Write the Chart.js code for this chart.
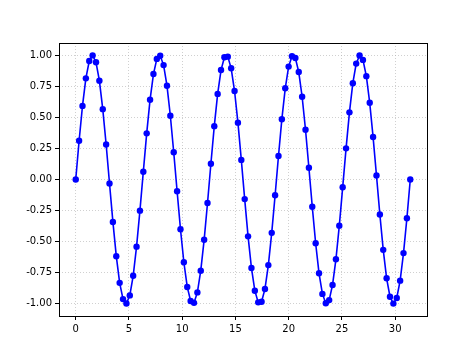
<!DOCTYPE html>
<html>
<head>
<meta charset="utf-8">
<script src="https://cdn.jsdelivr.net/npm/chart.js@4.4.0/dist/chart.umd.min.js"></script>
<style>
  html, body { margin: 0; padding: 0; background: #fff; }
  #wrap { width: 474px; height: 355px; }
</style>
</head>
<body>
<div id="wrap"><canvas id="chart" width="474" height="355"></canvas></div>
<script>
const xs = [0, 0.317, 0.635, 0.952, 1.269, 1.587, 1.904, 2.221, 2.539, 2.856,
    3.173, 3.491, 3.808, 4.125, 4.443, 4.760, 5.077, 5.395, 5.712, 6.029,
    6.347, 6.664, 6.981, 7.299, 7.616, 7.933, 8.251, 8.568, 8.885, 9.203,
    9.520, 9.837, 10.155, 10.472, 10.789, 11.107, 11.424, 11.741, 12.059, 12.376,
    12.693, 13.011, 13.328, 13.645, 13.963, 14.280, 14.597, 14.915, 15.232, 15.549,
    15.867, 16.184, 16.501, 16.819, 17.136, 17.453, 17.771, 18.088, 18.405, 18.723,
    19.040, 19.357, 19.675, 19.992, 20.309, 20.627, 20.944, 21.261, 21.579, 21.896,
    22.213, 22.531, 22.848, 23.165, 23.483, 23.800, 24.117, 24.435, 24.752, 25.069,
    25.387, 25.704, 26.021, 26.339, 26.656, 26.973, 27.291, 27.608, 27.925, 28.243,
    28.560, 28.877, 29.195, 29.512, 29.829, 30.147, 30.464, 30.781, 31.099, 31.416];

const ys = [0, 0.312, 0.593, 0.815, 0.955, 1.000, 0.945, 0.796, 0.567, 0.282,
    -0.032, -0.342, -0.618, -0.833, -0.964, -0.999, -0.934, -0.776, -0.541, -0.251,
    0.063, 0.372, 0.643, 0.850, 0.972, 0.997, 0.922, 0.756, 0.514, 0.220,
    -0.095, -0.401, -0.667, -0.866, -0.979, -0.994, -0.910, -0.735, -0.486, -0.189,
    0.127, 0.430, 0.690, 0.882, 0.985, 0.990, 0.896, 0.713, 0.458, 0.158,
    -0.158, -0.458, -0.713, -0.896, -0.990, -0.985, -0.882, -0.690, -0.430, -0.127,
    0.189, 0.486, 0.735, 0.910, 0.994, 0.979, 0.866, 0.667, 0.401, 0.095,
    -0.220, -0.514, -0.756, -0.922, -0.997, -0.972, -0.850, -0.643, -0.372, -0.063,
    0.251, 0.541, 0.776, 0.934, 0.999, 0.964, 0.833, 0.618, 0.342, 0.032,
    -0.282, -0.567, -0.796, -0.945, -1.000, -0.955, -0.815, -0.593, -0.312, 0];

const xTicks = [0, 5, 10, 15, 20, 25, 30];
const yTicks = [-1.0, -0.75, -0.5, -0.25, 0, 0.25, 0.5, 0.75, 1.0];

const points = xs.map((x, i) => ({ x: x, y: ys[i] }));

// matplotlib-style box around the axes
const frame = {
    id: 'frame',
    afterDraw(chart) {
        const a = chart.chartArea;
        const ctx = chart.ctx;
        ctx.save();
        ctx.strokeStyle = '#000';
        ctx.lineWidth = 1;
        ctx.strokeRect(Math.round(a.left) + 0.5, Math.round(a.top) + 0.5,
            Math.round(a.right - a.left), Math.round(a.bottom - a.top));
        ctx.restore();
    }
};

const gridOpts = {
    color: 'rgba(176,176,176,0.75)',
    lineWidth: 0.8,
    tickColor: '#000',
    tickLength: 4,
    tickWidth: 1,
    tickBorderDash: []
};

new Chart(document.getElementById('chart').getContext('2d'), {
    type: 'line',
    data: {
        datasets: [{
            data: points,
            borderColor: '#0000ff',
            backgroundColor: '#0000ff',
            borderWidth: 1.6,
            pointRadius: 3.2,
            pointHoverRadius: 3.2,
            pointBorderWidth: 0,
            tension: 0
        }]
    },
    options: {
        responsive: false,
        animation: false,
        events: [],
        layout: { padding: { left: 0, right: 47, top: 43, bottom: 0 } },
        plugins: { legend: { display: false }, tooltip: { enabled: false } },
        scales: {
            x: {
                type: 'linear',
                min: -1.571,
                max: 32.987,
                afterBuildTicks: (s) => { s.ticks = xTicks.map(v => ({ value: v })); },
                afterFit: (s) => { s.height = 39; },
                grid: gridOpts,
                border: { display: false, dash: [1, 2] },
                ticks: {
                    color: '#000',
                    font: { family: 'DejaVu Sans', size: 10 },
                    padding: 3,
                    maxRotation: 0,
                    callback: (v) => String(v)
                }
            },
            y: {
                min: -1.1,
                max: 1.1,
                afterBuildTicks: (s) => { s.ticks = yTicks.map(v => ({ value: v })); },
                afterFit: (s) => { s.width = 59; },
                grid: gridOpts,
                border: { display: false, dash: [1, 2] },
                ticks: {
                    color: '#000',
                    font: { family: 'DejaVu Sans', size: 10 },
                    padding: 3,
                    callback: (v) => Number(v).toFixed(2)
                }
            }
        }
    },
    plugins: [frame]
});
</script>
</body>
</html>
